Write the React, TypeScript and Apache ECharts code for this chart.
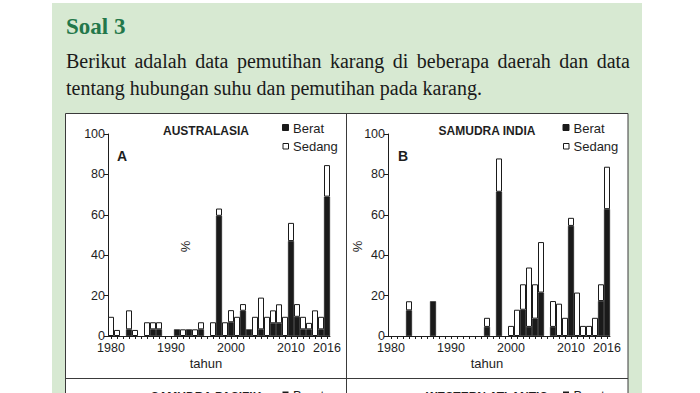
import React, { useEffect, useRef } from "react";
import * as echarts from "echarts";

const years = [
  "1980","1981","1982","1983","1984","1985","1986","1987","1988","1989",
  "1990","1991","1992","1993","1994","1995","1996","1997","1998","1999",
  "2000","2001","2002","2003","2004","2005","2006","2007","2008","2009",
  "2010","2011","2012","2013","2014","2015","2016",
];
const shownYears = ["1980", "1990", "2000", "2010", "2016"];
const yTicks = [0, 20, 40, 60, 80, 100];

// Australasia (A)
const ausBerat = [
  0, 0, 0, 3.3, 0, 0, 0, 3.3, 3.3, 0,
  0, 3.3, 0, 3.3, 0, 3.3, 0, 0, 59.5, 0,
  6.8, 0, 12.5, 3.3, 0, 3.3, 0, 6.3, 6.3, 0,
  47, 9.5, 3.3, 3.3, 0, 3.3, 69,
];
const ausSedang = [
  9.5, 3, 0, 9.4, 3, 0, 6.8, 3.5, 3.5, 0,
  0, 0, 3.3, 0, 3.3, 3.5, 0, 6.8, 3.6, 6.8,
  6, 9.5, 3.3, 0, 9.5, 15.7, 9.5, 6.4, 9.4, 9.5,
  9, 6.3, 6.2, 3.2, 12.7, 6.2, 15.6,
];
// Samudra India (B)
const indBerat = [
  0, 0, 0, 12.7, 0, 0, 0, 17.2, 0, 0,
  0, 0, 0, 0, 0, 0, 4.5, 0, 71.4, 0,
  0, 0, 13, 4.5, 8.6, 21.5, 0, 4.5, 0, 0,
  54.5, 0, 0, 0, 0, 17.3, 62.8,
];
const indSedang = [
  0, 0, 0, 4.5, 0, 0, 0, 0, 0, 0,
  0, 0, 0, 0, 0, 0, 4.5, 0, 16.5, 0,
  5, 13, 12.6, 29.4, 17, 25, 0, 12.8, 16, 9,
  4, 21.5, 5, 5, 9, 8.3, 21,
];

const titleText = "Soal 3";
const line1Text = "Berikut adalah data pemutihan karang di beberapa daerah dan data";
const line2Text = "tentang hubungan suhu dan pemutihan pada karang.";
const panelTitles = ["AUSTRALASIA", "SAMUDRA INDIA"];
const panelLetters = ["A", "B"];
const nextTitles = ["SAMUDRA PASIFIK", "WESTERN ATLANTIC"];
const legendNames = ["Berat", "Sedang"];

const SANS = "'Liberation Sans', Arial, sans-serif";
const SERIF = "'Liberation Serif', 'Times New Roman', serif";
const INK = "#1e1e1e";
const BODY_FONT = `20px ${SERIF}`;

export default function App() {
  const ref = useRef<HTMLDivElement>(null);
  useEffect(() => {
    if (!ref.current) return;
    const chart = echarts.init(ref.current, null, { renderer: "svg" });

    const nz = (arr: number[]) => arr.map((v) => (v === 0 ? null : v));
    const gridLefts = [108, 388];
    const panelCx = [206, 487];

    const xAxes = gridLefts.map((_, i) => ({
      type: "category",
      gridIndex: i,
      data: years,
      boundaryGap: true,
      axisLine: { lineStyle: { color: INK, width: 1 } },
      axisTick: { show: true, interval: 0, alignWithLabel: true, length: 3, lineStyle: { color: INK } },
      axisLabel: {
        interval: (_idx: number, val: string) => shownYears.indexOf(val) >= 0,
        color: INK,
        fontSize: 12.5,
        fontFamily: SANS,
        margin: 5,
      },
      splitLine: { show: false },
    }));
    const yAxes = gridLefts.map((_, i) => ({
      type: "value",
      gridIndex: i,
      min: yTicks[0],
      max: yTicks[yTicks.length - 1],
      interval: 20,
      axisLine: { show: true, lineStyle: { color: INK, width: 1 } },
      axisTick: { show: true, length: 4, lineStyle: { color: INK } },
      axisLabel: { color: INK, fontSize: 12.5, fontFamily: SANS, margin: 3 },
      splitLine: { show: false },
    }));

    const mkSeries = (i: number, berat: number[], sedang: number[]) => [
      {
        type: "bar",
        name: legendNames[0],
        xAxisIndex: i,
        yAxisIndex: i,
        stack: "s" + i,
        data: nz(berat),
        barWidth: 6,
        barCategoryGap: "0%",
        itemStyle: { color: "#1a1a1a", borderColor: "#1a1a1a", borderWidth: 0.6 },
      },
      {
        type: "bar",
        name: legendNames[1],
        xAxisIndex: i,
        yAxisIndex: i,
        stack: "s" + i,
        data: nz(sedang),
        barWidth: 6,
        barCategoryGap: "0%",
        itemStyle: { color: "#ffffff", borderColor: "#1a1a1a", borderWidth: 1 },
      },
    ];

    const graphics: any[] = [
      { type: "rect", z: -20, shape: { x: 0, y: 0, width: 700, height: 393 }, style: { fill: "#ffffff" } },
      { type: "rect", z: -19, shape: { x: 52, y: 3, width: 590, height: 400 }, style: { fill: "#d7e9d2" } },
      { type: "rect", z: -18, shape: { x: 65.5, y: 113.5, width: 562.5, height: 300 }, style: { fill: "#ffffff", stroke: "#3a3a3a", lineWidth: 1 } },
      { type: "line", z: -17, shape: { x1: 346.5, y1: 113.5, x2: 346.5, y2: 400 }, style: { stroke: "#3a3a3a", lineWidth: 1 } },
      { type: "line", z: -17, shape: { x1: 65.5, y1: 378.5, x2: 628, y2: 378.5 }, style: { stroke: "#3a3a3a", lineWidth: 1 } },
      {
        type: "text", z: 50, x: 66, y: 26,
        style: { text: titleText, fill: "#23774a", font: `bold 23px ${SERIF}`, textVerticalAlign: "middle" },
      },
      {
        type: "text", z: 50, x: 66, y: 88,
        style: { text: line2Text, fill: "#1a1a1a", font: BODY_FONT, textVerticalAlign: "middle" },
      },
    ];

    // justified first line (66 → 630)
    const words = line1Text.split(" ");
    const ctx = document.createElement("canvas").getContext("2d");
    let widths = words.map((w) => w.length * 9);
    if (ctx) {
      ctx.font = BODY_FONT;
      widths = words.map((w) => ctx.measureText(w).width);
    }
    const left = 66;
    const right = 630;
    const total = widths.reduce((a, b) => a + b, 0);
    const gap = (right - left - total) / (words.length - 1);
    let cursor = left;
    words.forEach((w, k) => {
      graphics.push({
        type: "text", z: 50, x: cursor, y: 61,
        style: { text: w, fill: "#1a1a1a", font: BODY_FONT, textVerticalAlign: "middle" },
      });
      cursor += widths[k] + gap;
    });

    [0, 1].forEach((i) => {
      const cx = panelCx[i];
      const legX = i === 0 ? 282.5 : 563;
      graphics.push(
        { type: "text", z: 50, x: cx, y: 130.5, style: { text: panelTitles[i], fill: INK, font: `bold 12px ${SANS}`, textAlign: "center", textVerticalAlign: "middle" } },
        { type: "text", z: 50, x: i === 0 ? 117 : 398, y: 155.5, style: { text: panelLetters[i], fill: INK, font: `bold 14px ${SANS}`, textVerticalAlign: "middle" } },
        { type: "rect", z: 50, shape: { x: legX, y: 124.5, width: 6, height: 6 }, style: { fill: "#1a1a1a", stroke: "#1a1a1a", lineWidth: 1 } },
        { type: "rect", z: 50, shape: { x: legX + 0.5, y: 143.5, width: 5.5, height: 5.5 }, style: { fill: "#ffffff", stroke: "#1a1a1a", lineWidth: 1 } },
        { type: "text", z: 50, x: legX + 10.5, y: 128, style: { text: legendNames[0], fill: INK, font: `13px ${SANS}`, textVerticalAlign: "middle" } },
        { type: "text", z: 50, x: legX + 10.5, y: 146.5, style: { text: legendNames[1], fill: INK, font: `13px ${SANS}`, textVerticalAlign: "middle" } },
        { type: "text", z: 50, x: i === 0 ? 185 : 357, y: 246.5, rotation: Math.PI / 2, style: { text: "%", fill: INK, font: `13px ${SANS}`, textAlign: "center", textVerticalAlign: "middle" } },
        { type: "text", z: 50, x: cx, y: 363, style: { text: "tahun", fill: INK, font: `13px ${SANS}`, textAlign: "center", textVerticalAlign: "middle" } },
        { type: "text", z: 50, x: cx, y: 390.5, style: { text: nextTitles[i], fill: INK, font: `bold 12px ${SANS}`, textAlign: "center", textVerticalAlign: "top" } },
        { type: "rect", z: 50, shape: { x: legX, y: 391.5, width: 6, height: 6 }, style: { fill: "#1a1a1a" } },
        { type: "text", z: 50, x: legX + 10.5, y: 389, style: { text: legendNames[0], fill: INK, font: `13px ${SANS}`, textVerticalAlign: "top" } },
      );
    });

    chart.setOption({
      animation: false,
      backgroundColor: "#ffffff",
      grid: gridLefts.map((l) => ({ left: l, top: 134, width: 222, height: 202, containLabel: false })),
      xAxis: xAxes,
      yAxis: yAxes,
      series: [...mkSeries(0, ausBerat, ausSedang), ...mkSeries(1, indBerat, indSedang)],
      graphic: graphics,
    });
    return () => chart.dispose();
  }, []);
  return (
    <div
      ref={ref}
      style={{ position: "fixed", left: 0, top: 0, width: 700, height: 393 }}
    />
  );
}
